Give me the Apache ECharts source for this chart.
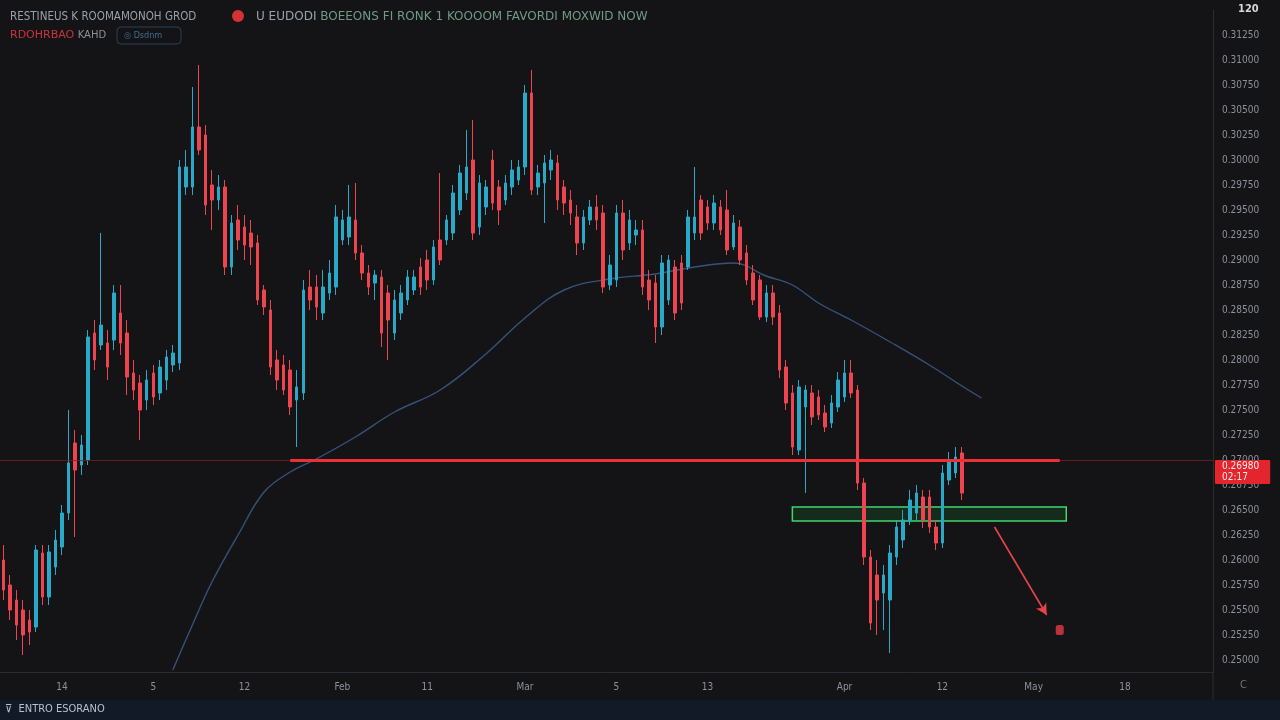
<!DOCTYPE html>
<html>
<head>
<meta charset="utf-8">
<script src="https://cdn.jsdelivr.net/npm/echarts@6/dist/echarts.min.js"></script>
<style>
  html, body { margin: 0; padding: 0; background: #141416; }
  #chart { width: 1280px; height: 720px; }
</style>
</head>
<body>
<div id="chart"></div>
<script>
// x axis: number of slots and the few labelled dates
const slotCount = 186
const dateLabels = [[9, '14'], [23, '5'], [37, '12'], [52, 'Feb'], [65, '11'], [80, 'Mar'], [94, '5'], [108, '13'], [129, 'Apr'], [144, '12'], [158, 'May'], [172, '18']]

// price ticks on the right
const priceTicks = [0.2500, 0.2525, 0.2550, 0.2575, 0.2600, 0.2625, 0.2650, 0.2675, 0.2700, 0.2725, 0.2750, 0.2775, 0.2800,
  0.2825, 0.2850, 0.2875, 0.2900, 0.2925, 0.2950, 0.2975, 0.3000, 0.3025, 0.3050, 0.3075, 0.3100, 0.3125]

// candles: [open, close, low, high]
const candles = [
  [0.2600, 0.2570, 0.2560, 0.2615], [0.2575, 0.2550, 0.2540, 0.2585], [0.2560, 0.2535, 0.2520, 0.2570], [0.2550, 0.2525, 0.2505, 0.2560],
  [0.2540, 0.2528, 0.2515, 0.2550], [0.2533, 0.2610, 0.2528, 0.2615], [0.2607, 0.2563, 0.2555, 0.2615], [0.2563, 0.2608, 0.2555, 0.2615],
  [0.2593, 0.2620, 0.2585, 0.2630], [0.2613, 0.2647, 0.2605, 0.2655], [0.2647, 0.2697, 0.2640, 0.2750], [0.2717, 0.2690, 0.2623, 0.2730],
  [0.2695, 0.2715, 0.2685, 0.2725], [0.2700, 0.2823, 0.2695, 0.2830], [0.2827, 0.2800, 0.2790, 0.2840], [0.2815, 0.2835, 0.2810, 0.2927],
  [0.2817, 0.2793, 0.2780, 0.2830], [0.2820, 0.2867, 0.2810, 0.2875], [0.2847, 0.2817, 0.2805, 0.2875], [0.2827, 0.2783, 0.2765, 0.2840],
  [0.2787, 0.2770, 0.2760, 0.2800], [0.2777, 0.2750, 0.2720, 0.2785], [0.2760, 0.2780, 0.2750, 0.2790], [0.2787, 0.2763, 0.2755, 0.2795],
  [0.2767, 0.2793, 0.2760, 0.2800], [0.2780, 0.2803, 0.2770, 0.2810], [0.2795, 0.2807, 0.2788, 0.2815], [0.2797, 0.2993, 0.2790, 0.3000],
  [0.2973, 0.2993, 0.2965, 0.3010], [0.2973, 0.3033, 0.2965, 0.3073], [0.3033, 0.3010, 0.3005, 0.3095], [0.3025, 0.2955, 0.2945, 0.3035],
  [0.2975, 0.2960, 0.2930, 0.2990], [0.2960, 0.2973, 0.2950, 0.2985], [0.2973, 0.2893, 0.2885, 0.2980], [0.2893, 0.2937, 0.2885, 0.2945],
  [0.2940, 0.2920, 0.2910, 0.2955], [0.2933, 0.2915, 0.2900, 0.2945], [0.2927, 0.2913, 0.2895, 0.2940], [0.2917, 0.2860, 0.2855, 0.2925],
  [0.2870, 0.2853, 0.2845, 0.2875], [0.2850, 0.2793, 0.2785, 0.2860], [0.2800, 0.2780, 0.2770, 0.2810], [0.2795, 0.2770, 0.2765, 0.2805],
  [0.2790, 0.2753, 0.2745, 0.2800], [0.2760, 0.2773, 0.2713, 0.2790], [0.2767, 0.2870, 0.2760, 0.2880], [0.2873, 0.2860, 0.2850, 0.2890],
  [0.2873, 0.2853, 0.2840, 0.2885], [0.2847, 0.2873, 0.2840, 0.2890], [0.2867, 0.2887, 0.2860, 0.2900], [0.2873, 0.2943, 0.2865, 0.2955],
  [0.2920, 0.2940, 0.2915, 0.2950], [0.2923, 0.2943, 0.2915, 0.2975], [0.2940, 0.2907, 0.2900, 0.2977], [0.2907, 0.2887, 0.2880, 0.2915],
  [0.2887, 0.2873, 0.2865, 0.2895], [0.2877, 0.2885, 0.2860, 0.2890], [0.2883, 0.2827, 0.2813, 0.2890], [0.2867, 0.2840, 0.2800, 0.2875],
  [0.2827, 0.2860, 0.2820, 0.2870], [0.2847, 0.2867, 0.2840, 0.2875], [0.2860, 0.2883, 0.2855, 0.2890], [0.2870, 0.2883, 0.2865, 0.2890],
  [0.2893, 0.2873, 0.2865, 0.2902], [0.2900, 0.2880, 0.2870, 0.2910], [0.2880, 0.2913, 0.2875, 0.2920], [0.2920, 0.2900, 0.2895, 0.2987],
  [0.2920, 0.2940, 0.2915, 0.2945], [0.2927, 0.2967, 0.2920, 0.2975], [0.2950, 0.2987, 0.2945, 0.2995], [0.2967, 0.2993, 0.2960, 0.3030],
  [0.3000, 0.2927, 0.2920, 0.3040], [0.2933, 0.2977, 0.2925, 0.2985], [0.2953, 0.2973, 0.2945, 0.2980], [0.3000, 0.2957, 0.2950, 0.3010],
  [0.2973, 0.2950, 0.2935, 0.2980], [0.2960, 0.2977, 0.2955, 0.2985], [0.2973, 0.2990, 0.2965, 0.3000], [0.2980, 0.2993, 0.2975, 0.3000],
  [0.2993, 0.3067, 0.2985, 0.3075], [0.3067, 0.2970, 0.2965, 0.3090], [0.2973, 0.2987, 0.2965, 0.2995], [0.2977, 0.2997, 0.2937, 0.3005],
  [0.2990, 0.3000, 0.2980, 0.3010], [0.2997, 0.2960, 0.2950, 0.3005], [0.2973, 0.2957, 0.2945, 0.2980], [0.2960, 0.2947, 0.2935, 0.2970],
  [0.2943, 0.2917, 0.2905, 0.2955], [0.2917, 0.2943, 0.2910, 0.2950], [0.2940, 0.2953, 0.2935, 0.2960], [0.2953, 0.2940, 0.2930, 0.2965],
  [0.2947, 0.2873, 0.2867, 0.2955], [0.2875, 0.2895, 0.2870, 0.2905], [0.2880, 0.2947, 0.2873, 0.2955], [0.2947, 0.2910, 0.2900, 0.2960],
  [0.2917, 0.2940, 0.2910, 0.2950], [0.2925, 0.2930, 0.2915, 0.2940], [0.2930, 0.2873, 0.2865, 0.2940], [0.2880, 0.2860, 0.2850, 0.2890],
  [0.2877, 0.2833, 0.2817, 0.2885], [0.2833, 0.2897, 0.2825, 0.2905], [0.2860, 0.2900, 0.2855, 0.2905], [0.2893, 0.2847, 0.2840, 0.2900],
  [0.2897, 0.2857, 0.2850, 0.2905], [0.2893, 0.2943, 0.2890, 0.2950], [0.2927, 0.2943, 0.2920, 0.2993], [0.2960, 0.2927, 0.2920, 0.2965],
  [0.2953, 0.2937, 0.2930, 0.2960], [0.2937, 0.2957, 0.2930, 0.2965], [0.2953, 0.2930, 0.2925, 0.2960], [0.2950, 0.2910, 0.2905, 0.2970],
  [0.2913, 0.2937, 0.2910, 0.2945], [0.2933, 0.2900, 0.2895, 0.2940], [0.2907, 0.2880, 0.2875, 0.2915], [0.2887, 0.2860, 0.2855, 0.2895],
  [0.2880, 0.2843, 0.2840, 0.2885], [0.2843, 0.2867, 0.2838, 0.2875], [0.2867, 0.2843, 0.2835, 0.2875], [0.2847, 0.2790, 0.2782, 0.2855],
  [0.2793, 0.2757, 0.2750, 0.2800], [0.2767, 0.2713, 0.2705, 0.2775], [0.2710, 0.2773, 0.2705, 0.2780], [0.2753, 0.2770, 0.2667, 0.2775],
  [0.2767, 0.2743, 0.2735, 0.2775], [0.2763, 0.2745, 0.2740, 0.2770], [0.2747, 0.2733, 0.2728, 0.2755], [0.2737, 0.2757, 0.2732, 0.2765],
  [0.2753, 0.2780, 0.2748, 0.2788], [0.2763, 0.2787, 0.2758, 0.2800], [0.2787, 0.2767, 0.2762, 0.2800], [0.2770, 0.2677, 0.2670, 0.2775],
  [0.2677, 0.2603, 0.2595, 0.2682], [0.2603, 0.2537, 0.2530, 0.2610], [0.2585, 0.2560, 0.2525, 0.2600], [0.2567, 0.2585, 0.2530, 0.2595],
  [0.2560, 0.2607, 0.2507, 0.2615], [0.2603, 0.2633, 0.2595, 0.2640], [0.2620, 0.2640, 0.2612, 0.2650], [0.2640, 0.2660, 0.2635, 0.2670],
  [0.2647, 0.2667, 0.2640, 0.2675], [0.2663, 0.2640, 0.2632, 0.2670], [0.2663, 0.2633, 0.2627, 0.2670], [0.2633, 0.2617, 0.2610, 0.2640],
  [0.2617, 0.2687, 0.2612, 0.2695], [0.2680, 0.2700, 0.2675, 0.2708], [0.2687, 0.2703, 0.2682, 0.2713], [0.2707, 0.2667, 0.2660, 0.2713]
]

// moving average: [slot, price]
const maPoints = [[26, 0.2490], [29, 0.2535], [32, 0.2578], [36, 0.2625], [40, 0.2668], [44, 0.2688], [48, 0.2701], [54, 0.2723],
  [60, 0.2748], [67, 0.2770], [74, 0.2806], [80, 0.2842], [86, 0.2870], [93, 0.2881], [100, 0.2886], [106, 0.2893], [112, 0.2897],
  [117, 0.2884], [121, 0.2875], [125, 0.2857], [130, 0.2840], [136, 0.2818], [142, 0.2795], [147, 0.2774], [150, 0.2762]]

// drawings
const resistanceLine = { from: 44, to: 162, price: 0.2700 }
const supportZone = { from: 121, to: 163, top: 0.2653, bottom: 0.2639 }
const arrowPath = [[152, 0.2633], [160, 0.2545]]
const markerPoint = [[162, 0.2530]]
const lastPrice = 0.2698
const priceTagText = '0.26980\n02:17'

const upColor = '#2aa8c8'
const downColor = '#ee4450'
const uiFont = '"DejaVu Sans Condensed", "Liberation Sans", sans-serif'
const headFont = '"DejaVu Sans", "Liberation Sans", sans-serif'

const categories = []
for (let i = 0; i < slotCount; i++) categories.push('')
dateLabels.forEach(([i, t]) => { categories[i] = t })

const chart = echarts.init(document.getElementById('chart'))

chart.setOption({
  backgroundColor: '#141416',
  animation: false,
  grid: { left: 0, right: 67, top: 10, bottom: 48 },
  xAxis: {
    type: 'category',
    data: categories,
    axisLine: { show: true, lineStyle: { color: '#2a2c33' } },
    axisTick: { show: false },
    axisLabel: { interval: 0, color: '#8d919b', fontSize: 10, margin: 10, fontFamily: uiFont },
    splitLine: { show: false }
  },
  yAxis: {
    type: 'value',
    position: 'right',
    min: 0.2488,
    max: 0.3150,
    axisLine: { show: true, lineStyle: { color: '#2a2c33' } },
    axisTick: { show: false },
    splitLine: { show: false },
    axisLabel: {
      customValues: priceTicks,
      color: '#8d919b',
      fontSize: 10,
      margin: 9,
      fontFamily: uiFont,
      formatter: v => v.toFixed(5)
    }
  },
  series: [
    {
      type: 'line',
      data: maPoints,
      smooth: 0.4,
      showSymbol: false,
      lineStyle: { color: '#36527a', width: 1.4 },
      z: 1
    },
    {
      type: 'candlestick',
      data: candles,
      barWidth: 3,
      itemStyle: {
        color: upColor,
        color0: downColor,
        borderColor: upColor,
        borderColor0: downColor,
        borderWidth: 1
      },
      z: 2,
      markArea: {
        silent: true,
        itemStyle: { color: 'rgba(22,70,36,0.45)', borderColor: '#3fd66b', borderWidth: 1.5 },
        data: [[
          { coord: [supportZone.from, supportZone.top] },
          { coord: [supportZone.to, supportZone.bottom] }
        ]]
      },
      markLine: {
        silent: true,
        symbol: ['none', 'none'],
        label: { show: false },
        data: [
          {
            yAxis: lastPrice,
            lineStyle: { color: 'rgba(130,30,32,0.75)', width: 1, type: 'solid' },
            label: {
              show: true,
              position: 'end',
              distance: 2,
              offset: [0, 12],
              formatter: priceTagText,
              backgroundColor: '#e3262d',
              color: '#ffe9e9',
              fontSize: 10,
              lineHeight: 11,
              padding: [1, 11, 1, 7],
              borderRadius: 1,
              fontFamily: uiFont
            }
          },
          [
            { coord: [resistanceLine.from, resistanceLine.price], lineStyle: { color: '#ee2f33', width: 3, type: 'solid' } },
            { coord: [resistanceLine.to, resistanceLine.price] }
          ],
          [
            { coord: arrowPath[0], symbol: 'none', lineStyle: { color: '#e8434a', width: 1.6, type: 'solid' } },
            { coord: arrowPath[1], symbol: 'arrow', symbolSize: [9, 11] }
          ]
        ]
      }
    },
    {
      type: 'scatter',
      data: markerPoint,
      symbol: 'roundRect',
      symbolSize: [8, 10],
      itemStyle: { color: '#e23b43' },
      z: 3
    }
  ],
  graphic: [
    {
      type: 'text', left: 10, top: 11,
      style: { text: 'RESTINEUS K ROOMAMONOH GROD', fill: '#9aa0a9', font: '11.5px ' + uiFont }
    },
    { type: 'circle', shape: { cx: 238, cy: 16, r: 6 }, style: { fill: '#d63134' } },
    {
      type: 'text', left: 256, top: 11,
      style: {
        text: '{a|U EUDODI} {b|BOEEONS FI RONK 1 KOOOOM FAVORDI MOXWID NOW}',
        font: '12px ' + headFont,
        rich: {
          a: { fill: '#9aa0a9', font: '12px ' + headFont },
          b: { fill: '#6f9a86', font: '12px ' + headFont }
        }
      }
    },
    {
      type: 'text', left: 10, top: 30,
      style: {
        text: '{r|RDOHRBAO} {g|KAHD}',
        font: '11px ' + headFont,
        rich: {
          r: { fill: '#c9343a', font: '11px ' + headFont },
          g: { fill: '#8b919a', font: '10px ' + headFont }
        }
      }
    },
    { type: 'rect', shape: { x: 117, y: 27, width: 64, height: 17, r: 4 }, style: { fill: 'transparent', stroke: '#24425e', lineWidth: 1 } },
    { type: 'text', left: 124, top: 31, style: { text: '◎ Dsdnm', fill: '#3f6d8e', font: '9px ' + uiFont } },
    { type: 'text', left: 1238, top: 4, style: { text: '120', fill: '#d5d8de', font: 'bold 11px ' + uiFont } },
    { type: 'line', shape: { x1: 1213, y1: 672, x2: 1213, y2: 700 }, style: { stroke: '#2a2c33', lineWidth: 1 } },
    { type: 'text', left: 1240, top: 680, style: { text: 'C', fill: '#6d717a', font: '11px ' + uiFont } },
    { type: 'rect', shape: { x: 0, y: 700, width: 1280, height: 20 }, style: { fill: '#121a27' } },
    { type: 'text', left: 5, top: 704, style: { text: '⊽  ENTRO ESORANO', fill: '#b7c0cc', font: '11px ' + uiFont } }
  ]
})
</script>
</body>
</html>
